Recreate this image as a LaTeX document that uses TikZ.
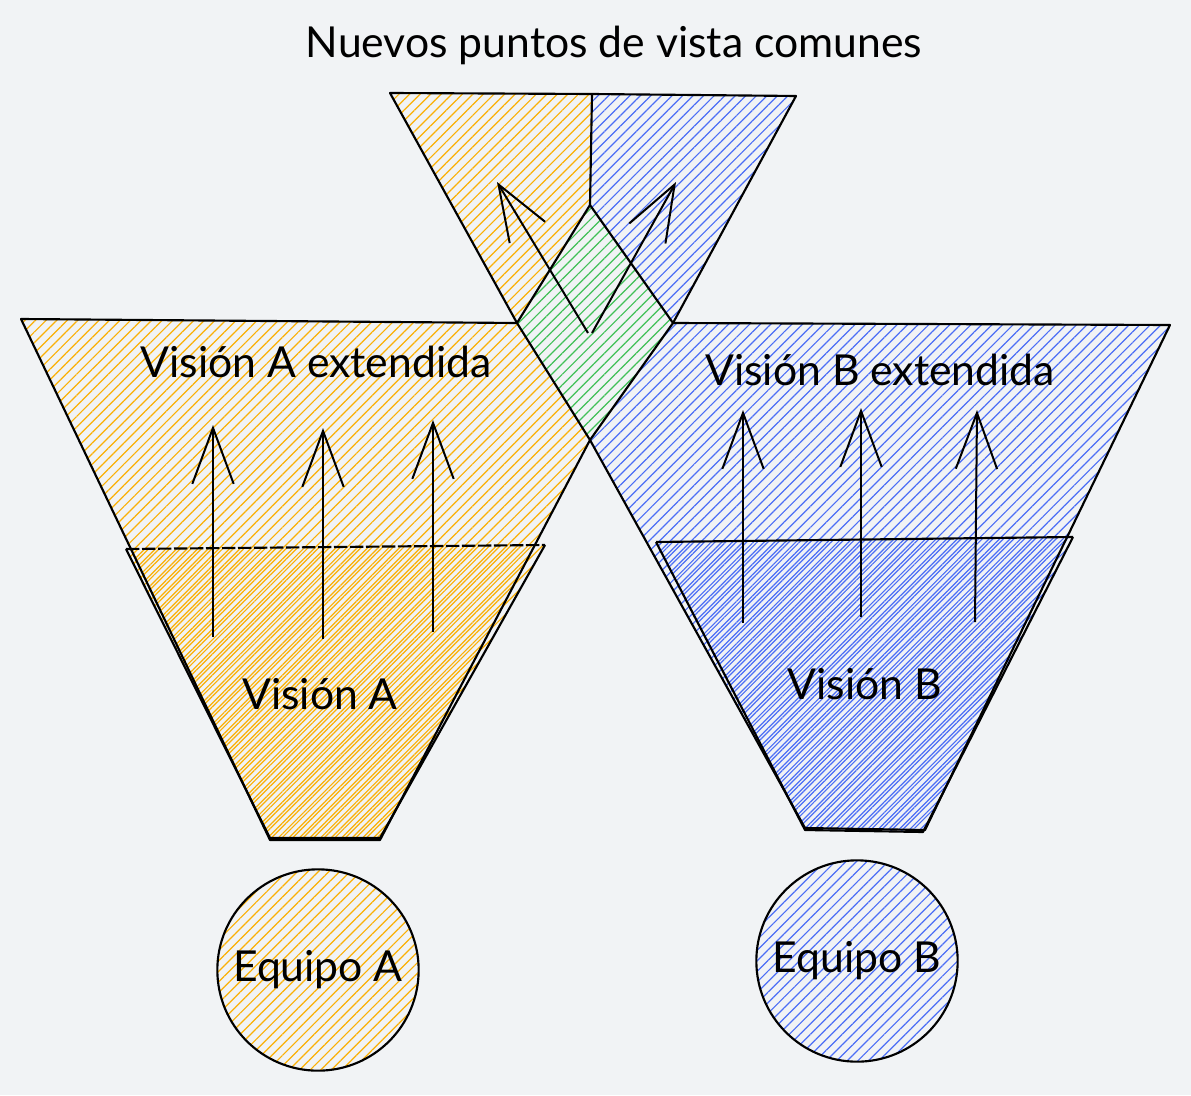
\documentclass[tikz,border=0pt]{standalone}
\usepackage{fontspec}
\setmainfont{Lato}
\usetikzlibrary{patterns.meta}
\usetikzlibrary{arrows.meta}
\definecolor{bgGray}{RGB}{241,243,245}
\definecolor{exOrange}{RGB}{250,176,5}
\definecolor{exBlue}{RGB}{76,110,245}
\definecolor{exGreen}{RGB}{64,192,87}

\begin{document}
\begin{tikzpicture}[x=0.75pt,y=0.75pt,yscale=-1,xscale=1,
  outline/.style={draw=black, line width=1.6pt, line join=round},
  hatch/.style={pattern={Lines[angle=45,distance=5.6pt,line width=0.9pt]}, pattern color=#1},
  hatchdense/.style={pattern={Lines[angle=45,distance=5.6pt,xshift=2.8pt,line width=0.9pt]}, pattern color=#1},
  uparrow/.style={line width=1.5pt, -{Straight Barb[length=42pt,width=31pt,line width=1.5pt]}},
  txt/.style={font=\fontsize{32}{38}\selectfont, inner sep=0pt},
  team/.style={circle, draw=black, line width=1.6pt, minimum size=151pt, hatch=#1, font=\fontsize{32}{38}\selectfont, inner sep=0pt}
]
%set diagram size
\useasboundingbox (0,0) rectangle (1191,1095);
\fill[bgGray] (0,0) rectangle (1191,1095);

%Shape: top funnel, orange half
\fill[hatch=exOrange] (390,93) -- (592,94) -- (592,205) -- (517,323) -- cycle;
%Shape: top funnel, blue half
\fill[hatch=exBlue] (592,94) -- (796,96) -- (673,323) -- (590,205) -- cycle;
%Shape: common part
\fill[hatch=exGreen] (590,205) -- (673,323) -- (590,440) -- (517,323) -- cycle;
%Shape: funnel A
\fill[hatch=exOrange] (21,319) -- (517,323) -- (590,440) -- (380,840) -- (270,840) -- cycle;
%Shape: funnel B
\fill[hatch=exBlue] (673,323) -- (1170,325) -- (925,830) -- (805,828) -- (590,440) -- cycle;
%Shape: vision A
\fill[hatchdense=exOrange] (126,549) -- (545,545) -- (380,838) -- (270,838) -- cycle;
%Shape: vision B
\fill[hatchdense=exBlue] (656,542) -- (1073,537) -- (923,832) -- (805,830) -- cycle;

%Outlines
\draw[outline] (517,323) -- (390,93) -- (592,94) -- (796,96) -- (673,323);
\draw[outline] (592,94) -- (590,205);
\draw[outline] (590,205) -- (673,323) -- (590,440) -- (517,323) -- cycle;
\draw[outline] (517,323) -- (21,319) -- (270,840) -- (380,840) -- (590,440);
\draw[outline] (673,323) -- (1170,325) -- (925,830) -- (805,828) -- (590,440);
\draw[outline, dash pattern=on 10pt off 2pt] (126,549) -- (545,545);
\draw[outline] (126,549) -- (270,838) -- (380,838) -- (545,545);
\draw[outline] (656,542) -- (1073,537);
\draw[outline] (656,542) -- (805,830) -- (923,832) -- (1073,537);

%Arrows
\draw[uparrow] (213,637) -- (213,425);
\draw[uparrow] (323,639) -- (323,428);
\draw[uparrow] (433,632) -- (433,420);
\draw[uparrow] (743,623) -- (743,410);
\draw[uparrow] (861,617) -- (861,408);
\draw[uparrow] (975,622) -- (977,410);
\draw[uparrow] (588,333) -- (497,182);
\draw[uparrow] (592,333) -- (676,182);

% Text Node
\node[txt] (title) at (614,45) {Nuevos puntos de vista comunes};
% Text Node
\node[txt] (visAext) at (316,362) {Visión A extendida};
% Text Node
\node[txt] (visBext) at (880,370) {Visión B extendida};
% Text Node
\node[txt] (visA) at (320,694) {Visión A};
% Text Node
\node[txt] (visB) at (865,684) {Visión B};
% Circles
\node[team=exOrange] (eqA) at (318,970) {Equipo A};
\node[team=exBlue] (eqB) at (857,961) {Equipo B};

\end{tikzpicture}
\end{document}
